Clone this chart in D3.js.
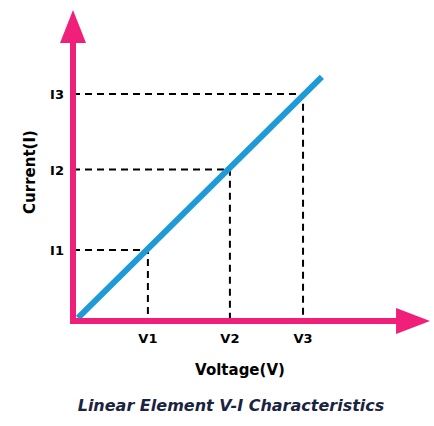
<!DOCTYPE html>
<html><head><meta charset="utf-8">
<script src="https://cdn.jsdelivr.net/npm/d3@7"></script>
<style>body{margin:0;background:#fff}</style></head>
<body><svg id="c" width="434" height="426"></svg>
<script>
const xTicks = ["V1","V2","V3"];
const yTicks = ["I1","I2","I3"];
const voltages = [21.1, 44.2, 64.8];
const currents = [23, 49, 73.5];
const lineX = [1.4, 70.1];
const lineY = [1, 79];

const svg = d3.select("#c");
const x = d3.scaleLinear().domain([0,100]).range([73,428]);
const y = d3.scaleLinear().domain([0,100]).range([321,12]);
const pink = "#ef1f7a", blue = "#1e9bd7";

voltages.forEach((v,i)=>{
  const c = currents[i];
  svg.append("path").attr("d",`M${x(0)},${y(c)}H${x(v)}V${y(0)}`)
    .attr("fill","none").attr("stroke","#000").attr("stroke-width",2).attr("stroke-dasharray","7,5");
});
svg.append("line").attr("x1",x(lineX[0])).attr("y1",y(lineY[0])).attr("x2",x(lineX[1])).attr("y2",y(lineY[1]))
  .attr("stroke",blue).attr("stroke-width",6);
svg.append("line").attr("x1",x(0)).attr("y1",y(0)+3).attr("x2",x(0)).attr("y2",y(90)).attr("stroke",pink).attr("stroke-width",6);
svg.append("line").attr("x1",x(0)-3).attr("y1",y(0)).attr("x2",x(92)).attr("y2",y(0)).attr("stroke",pink).attr("stroke-width",6);
svg.append("path").attr("d",`M${x(0)},${y(100)-2}L${x(0)-13},${y(90)}L${x(0)+13},${y(90)}Z`).attr("fill",pink);
svg.append("path").attr("d",`M${x(100)+2},${y(0)}L${x(91)},${y(0)-13}L${x(91)},${y(0)+13}Z`).attr("fill",pink);

const f = "Tahoma, 'DejaVu Sans', sans-serif";
xTicks.forEach((t,i)=>svg.append("text").attr("x",x(voltages[i])).attr("y",343).attr("text-anchor","middle")
  .attr("font-family",f).attr("font-weight","bold").attr("font-size",13).text(t));
yTicks.forEach((t,i)=>svg.append("text").attr("x",64).attr("y",y(currents[i])+5).attr("text-anchor","end")
  .attr("font-family",f).attr("font-weight","bold").attr("font-size",13).text(t));
svg.append("text").attr("x",240).attr("y",375).attr("text-anchor","middle").attr("font-family",f)
  .attr("font-weight","bold").attr("font-size",15).text("Voltage(V)");
svg.append("text").attr("transform","translate(35,172) rotate(-90)").attr("text-anchor","middle").attr("font-family",f)
  .attr("font-weight","bold").attr("font-size",15).text("Current(I)");
svg.append("text").attr("x",231).attr("y",411).attr("text-anchor","middle").attr("font-family",f)
  .attr("font-weight","bold").attr("font-style","italic").attr("font-size",16).attr("fill","#1a2340")
  .text("Linear Element V-I Characteristics");
</script></body></html>
